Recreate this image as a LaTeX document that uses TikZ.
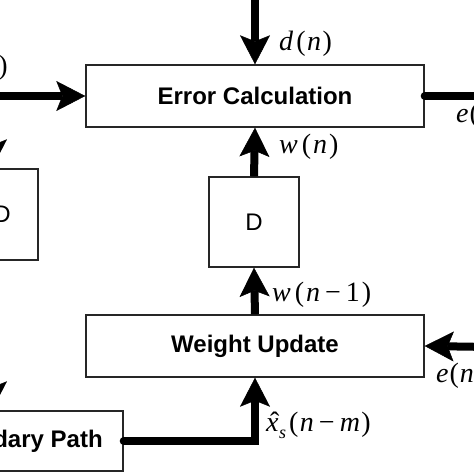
\documentclass[tikz,border=0pt]{standalone}
\usepackage{fontspec}
\setmainfont{Liberation Sans}
\newfontfamily\mathlab{Liberation Serif}
\usetikzlibrary{arrows.meta}
\newcommand{\vr}[1]{\textit{#1}}
\newcommand{\xhat}{\makebox[0pt][l]{\hspace{4pt}\char"02C6}\vr{x}}
\begin{document}
\begin{tikzpicture}[x=1pt,y=-1pt,
  blockbox/.style={draw=black!85, line width=1.4pt, fill=white, font=\fontsize{24}{28}\selectfont\bfseries, inner sep=0pt},
  delaybox/.style={draw=black!85, line width=1.4pt, fill=white, font=\fontsize{24}{28}\selectfont, inner sep=0pt},
  sig/.style={line width=8pt, -{Stealth[length=29pt,width=30pt,inset=6pt,line width=0.5pt]}},
  sigline/.style={line width=8pt, line cap=round},
  lab/.style={font=\mathlab\fontsize{28}{32}\selectfont, inner sep=0pt}
]
\useasboundingbox (0,0) rectangle (474,474);
\clip (0,0) rectangle (474,474);
\fill[white] (0,0) rectangle (474,474);

% blocks
\node[blockbox, minimum width=338pt, minimum height=62pt] (ec) at (255,96) {Error Calculation};
\node[delaybox, minimum width=90pt, minimum height=90pt] (dm) at (254,222) {D};
\node[blockbox, minimum width=338pt, minimum height=62pt] (wu) at (255,346) {Weight Update};
\node[delaybox, minimum width=72pt, minimum height=91pt] (dl) at (2,214.5) {D};
\node[blockbox, minimum width=222pt, minimum height=60pt] (sp) at (12,441) {Secondary Path};

% free ends
\coordinate (din) at (255,-6);
\coordinate (xin) at (-10,96);
\coordinate (eout) at (490,96);
\coordinate (ein) at (490,347);
\coordinate (a1) at (-8,95);
\coordinate (a2) at (-8,350);

% connectors
\draw[sig] (din) -- (ec.north);
\draw[sig] (xin) -- (ec.west);
\draw[sigline] (ec.east) -- (eout);
\draw[sig] (dm.north) -- (ec.south);
\draw[sig] (wu.north) -- (dm.south);
\draw[sig] (ein) -- (wu.east);
\draw[sig, line cap=round, line join=miter] (sp.east) -- (sp.east -| wu.south) -- (wu.south);
\draw[sig] (a1) -- (a1 |- dl.north);
\draw[sig] (a2) -- (a2 |- sp.north);

% labels
\node[lab, anchor=west] (ldn) at (279,44) {\vr{d}\kern3pt(\kern1.5pt\vr{n}\kern1.5pt)};
\node[lab, anchor=west] (lwn) at (279,147) {\vr{w}\kern4pt(\kern2pt\vr{n}\kern2pt)};
\node[lab, anchor=west] (lwn1) at (272,295) {\vr{w}\kern4pt(\kern2pt\vr{n}\kern5pt−\kern5pt1\kern2pt)};
\node[lab, anchor=west] (lxs) at (266,425) {\xhat\kern0.5pt\raisebox{-7pt}{\fontsize{18}{20}\selectfont\vr{s}}\kern3pt(\kern1.5pt\vr{n}\kern5pt−\kern5pt\vr{m}\kern1.5pt)};
\node[lab, anchor=west] (len) at (436,376) {\vr{e}\kern1pt(\kern1pt\vr{n}\kern1pt)};
\node[lab, anchor=west] (leo) at (456,116) {\vr{e}\kern1pt(\kern1pt\vr{n}\kern1pt)};
\node[lab, anchor=east] (lxn) at (8,68) {\vr{x}\kern1pt(\kern1pt\vr{n}\kern1pt)};
\end{tikzpicture}
\end{document}
